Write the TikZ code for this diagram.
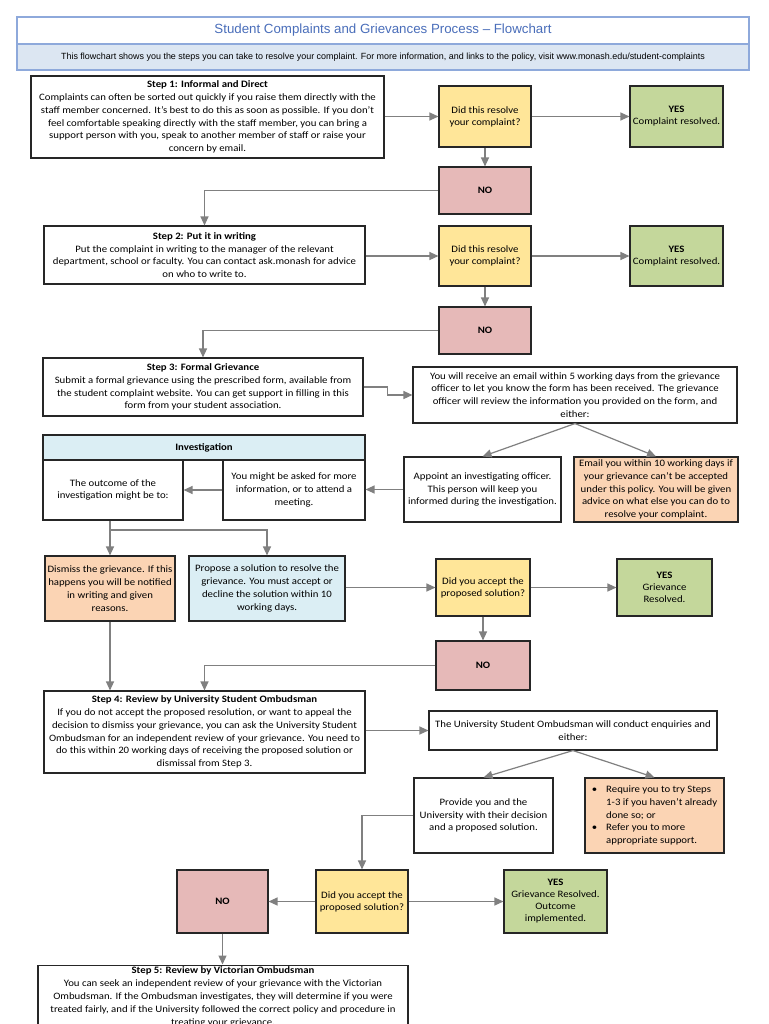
\documentclass[tikz,border=0pt]{standalone}
\usepackage{fontspec}
\setmainfont{Carlito}[FakeStretch=1.1]
\newfontfamily\hdrfont{Liberation Sans}
\usetikzlibrary{arrows.meta}
\definecolor{qyellow}{HTML}{FFE699}
\definecolor{ygreen}{HTML}{C4D79B}
\definecolor{npink}{HTML}{E6B9B8}
\definecolor{orng}{HTML}{FBD4B4}
\definecolor{lblue}{HTML}{DBEEF4}
\definecolor{hblue}{HTML}{DCE6F2}
\definecolor{hborder}{HTML}{8EA9DB}
\definecolor{htitle}{HTML}{4A6EBA}
\definecolor{arrgray}{HTML}{808080}
\begin{document}
\begin{tikzpicture}[x=1pt,y=-1pt,
  box/.style={draw=black!85, line width=1.1pt, align=center, inner sep=1pt,
    font=\fontsize{9.8}{12.8}\selectfont},
  qbox/.style={box, fill=qyellow, font=\fontsize{9.8}{12}\selectfont},
  yesbox/.style={box, fill=ygreen, font=\fontsize{9.8}{12}\selectfont},
  nobox/.style={box, fill=npink, font=\fontsize{9.8}{12}\selectfont},
  obox/.style={box, fill=orng},
  arr/.style={draw=arrgray, line width=1.2pt, -{Triangle[length=9pt,width=8pt]}},
  lin/.style={draw=arrgray, line width=1.2pt},
  hdr/.style={draw=hborder, line width=1.2pt, align=center, inner sep=0pt}
]
\useasboundingbox (0,0) rectangle (768,1024);
\clip (0,0) rectangle (768,1024);
\fill[white] (0,0) rectangle (768,1024);

% header
\node[hdr, minimum width=732, minimum height=27, text=htitle,
  font=\hdrfont\fontsize{13.3}{15}\selectfont] (title) at (383,30.5)
  {Student Complaints and Grievances Process – Flowchart};
\node[hdr, fill=hblue, minimum width=732, minimum height=26,
  font=\hdrfont\fontsize{8.95}{10}\selectfont] (sub) at (383,57)
  {This flowchart shows you the steps you can take to resolve your complaint. For more information, and links to the policy, visit www.monash.edu/student-complaints};

% row 1
\node[box, minimum width=353, minimum height=82] (s1) at (207.5,117)
  {\textbf{Step 1: Informal and Direct}\\
   Complaints can often be sorted out quickly if you raise them directly with the\\
   staff member concerned. It's best to do this as soon as possible. If you don't\\
   feel comfortable speaking directly with the staff member, you can bring a\\
   support person with you, speak to another member of staff or raise your\\
   concern by email.};
\node[qbox, minimum width=92, minimum height=61] (q1) at (485,116.5)
  {Did this resolve\\your complaint?};
\node[yesbox, minimum width=93, minimum height=61] (y1) at (676.5,116.5)
  {\textbf{YES}\\Complaint resolved.};
\node[nobox, minimum width=92, minimum height=47] (n1) at (485,190.5) {\textbf{NO}};

% row 2
\node[box, minimum width=321, minimum height=58] (s2) at (204.5,255)
  {\textbf{Step 2: Put it in writing}\\
   Put the complaint in writing to the manager of the relevant\\
   department, school or faculty. You can contact ask.monash for advice\\
   on who to write to.};
\node[qbox, minimum width=92, minimum height=60] (q2) at (485,256)
  {Did this resolve\\your complaint?};
\node[yesbox, minimum width=93, minimum height=60] (y2) at (676.5,256)
  {\textbf{YES}\\Complaint resolved.};
\node[nobox, minimum width=92, minimum height=47] (n2) at (485,330.5) {\textbf{NO}};

% row 3
\node[box, minimum width=320, minimum height=58] (s3) at (203,387)
  {\textbf{Step 3: Formal Grievance}\\
   Submit a formal grievance using the prescribed form, available from\\
   the student complaint website. You can get support in filling in this\\
   form from your student association.};
\node[box, minimum width=324, minimum height=56] (em) at (575,395)
  {You will receive an email within 5 working days from the grievance\\
   officer to let you know the form has been received. The grievance\\
   officer will review the information you provided on the form, and\\
   either:};
\node[box, minimum width=157, minimum height=65] (ap) at (482.5,489.5)
  {Appoint an investigating officer.\\This person will keep you\\informed during the investigation.};
\node[obox, minimum width=164, minimum height=65] (e10) at (656,489.5)
  {Email you within 10 working days if\\your grievance can't be accepted\\under this policy. You will be given\\advice on what else you can do to\\resolve your complaint.};

% investigation
\node[box, fill=lblue, minimum width=322, minimum height=25] (inv) at (204,447.5)
  {\textbf{Investigation}};
\node[box, minimum width=140, minimum height=60] (out) at (113,490)
  {The outcome of the\\investigation might be to:};
\node[box, minimum width=142, minimum height=60] (ym) at (294,490)
  {You might be asked for more\\information, or to attend a\\meeting.};

% row 4
\node[obox, minimum width=130, minimum height=65] (dis) at (110,588.5)
  {Dismiss the grievance. If this\\happens you will be notified\\in writing and given\\reasons.};
\node[box, fill=lblue, minimum width=156, minimum height=65] (pro) at (267,588.5)
  {Propose a solution to resolve the\\grievance. You must accept or\\decline the solution within 10\\working days.};
\node[qbox, minimum width=94, minimum height=57] (q3) at (483,587.5)
  {Did you accept the\\proposed solution?};
\node[yesbox, minimum width=95, minimum height=57] (y3) at (664.5,587.5)
  {\textbf{YES}\\Grievance\\Resolved.};
\node[nobox, minimum width=94, minimum height=49] (n3) at (483,665.5) {\textbf{NO}};

% step 4
\node[box, minimum width=321, minimum height=82] (s4) at (204.5,732)
  {\textbf{Step 4: Review by University Student Ombudsman}\\
   If you do not accept the proposed resolution, or want to appeal the\\
   decision to dismiss your grievance, you can ask the University Student\\
   Ombudsman for an independent review of your grievance. You need to\\
   do this within 20 working days of receiving the proposed solution or\\
   dismissal from Step 3.};
\node[box, minimum width=288, minimum height=39] (om) at (573,730.5)
  {The University Student Ombudsman will conduct enquiries and\\either:};
\node[box, minimum width=139, minimum height=75] (pv) at (483.5,815.5)
  {Provide you and the\\University with their decision\\and a proposed solution.};
\node[obox, minimum width=139, minimum height=75] (rq) at (654.5,815.5)
  {\begin{tabular}{@{}l@{\hspace{9pt}}l@{}}
   \textbullet & Require you to try Steps\\
               & 1-3 if you haven't already\\
               & done so; or\\
   \textbullet & Refer you to more\\
               & appropriate support.
   \end{tabular}};

% row 5
\node[nobox, minimum width=91, minimum height=63] (n4) at (222.5,901.5) {\textbf{NO}};
\node[qbox, minimum width=92, minimum height=63] (q4) at (362,901.5)
  {Did you accept the\\proposed solution?};
\node[yesbox, minimum width=103, minimum height=63] (y4) at (555.5,901.5)
  {\textbf{YES}\\Grievance Resolved.\\Outcome\\implemented.};

% step 5 (runs off the bottom of the page, as in the source)
\node[box, anchor=north, minimum width=370, inner ysep=2pt] (s5) at (223,964.5)
  {\textbf{Step 5: Review by Victorian Ombudsman}\\
   You can seek an independent review of your grievance with the Victorian\\
   Ombudsman. If the Ombudsman investigates, they will determine if you were\\
   treated fairly, and if the University followed the correct policy and procedure in\\
   treating your grievance.};

% connectors
\draw[arr] (s1.east |- q1.west) -- (q1.west);
\draw[arr] (q1.east) -- (y1.west);
\draw[arr] (q1.south) -- (n1.north);
\draw[arr] (n1.west) -| (s2.north);
\draw[arr] (s2.east |- q2.west) -- (q2.west);
\draw[arr] (q2.east) -- (y2.west);
\draw[arr] (q2.south) -- (n2.north);
\draw[arr] (n2.west) -| (s3.north);
\draw[arr] (s3.east) -- ++(24,0) |- (em.west);
\draw[arr] (em.south) -- (ap.north);
\draw[arr] (em.south) -- (e10.north);
\draw[arr] (ap.west) -- (ym.east |- ap.west);
\draw[arr] (ym.west) -- (out.east);
\coordinate (split) at (110,530);
\draw[lin] (out.south -| split) -- (split);
\draw[arr] (split) -- (dis.north);
\draw[arr] (split) -| (pro.north);
\draw[arr] (pro.east |- q3.west) -- (q3.west);
\draw[arr] (q3.east) -- (y3.west);
\draw[arr] (q3.south) -- (n3.north);
\draw[arr] (n3.west) -| (s4.north);
\draw[arr] (dis.south) -- (dis.south |- s4.north);
\draw[arr] (s4.east |- om.west) -- (om.west);
\draw[arr] (om.south) -- (pv.north);
\draw[arr] (om.south) -- (rq.north);
\draw[arr] (pv.west) -| (q4.north);
\draw[arr] (q4.west) -- (n4.east);
\draw[arr] (q4.east) -- (y4.west);
\draw[arr] (n4.south) -- (n4.south |- s5.north);
\end{tikzpicture}
\end{document}
